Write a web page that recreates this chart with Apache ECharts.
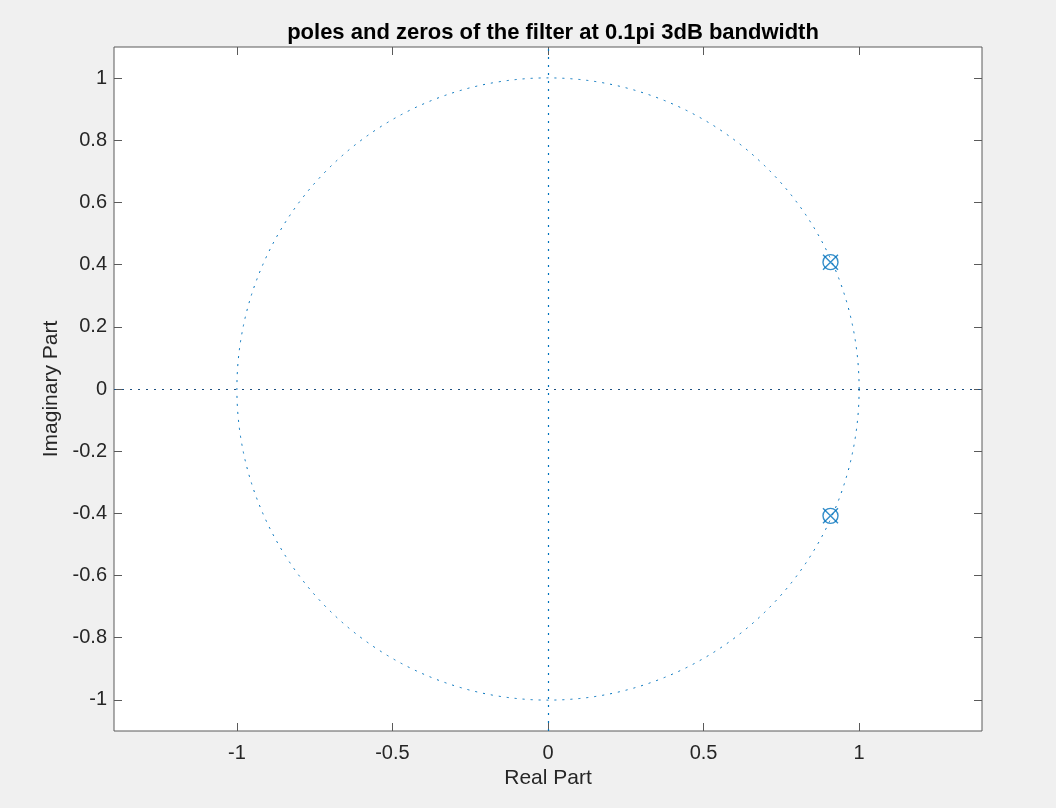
<!DOCTYPE html>
<html>
<head>
<meta charset="utf-8">
<script src="https://cdn.jsdelivr.net/npm/echarts@6/dist/echarts.min.js"></script>
<style>
html,body{margin:0;padding:0;background:#f0f0f0;}
#chart{width:1056px;height:808px;}
</style>
</head>
<body>
<div id="chart"></div>
<script>
// ---- data ----
var titleText = 'poles and zeros of the filter at 0.1pi 3dB bandwidth';
var xTicks = [-1, -0.5, 0, 0.5, 1];
var yTicks = [-1, -0.8, -0.6, -0.4, -0.2, 0, 0.2, 0.4, 0.6, 0.8, 1];
var zerosRe = [0.908, 0.908];
var zerosIm = [0.408, -0.408];
var polesRe = [0.908, 0.908];
var polesIm = [0.408, -0.408];
var unitCircle = [[0, 0, 1]]; // centre re, centre im, radius

var FONT = '"Liberation Sans", Helvetica, Arial, sans-serif';
var BLUE = '#0072BD';
var AX = '#5a5a5a';
var TXT = '#262626';

function pairs(re, im) { return re.map(function (v, i) { return [v, im[i]]; }); }

var chart = echarts.init(document.getElementById('chart'), null, {renderer: 'canvas'});

var tickStyle = {show: true, inside: true, length: 8, lineStyle: {color: AX, width: 1}};
var hiddenLine = {show: false, onZero: false};

var option = {
  backgroundColor: '#f0f0f0',
  animation: false,
  title: {
    text: titleText,
    left: 548,
    textAlign: 'center',
    top: 17,
    textStyle: {fontFamily: FONT, fontWeight: 'bold', fontSize: 22, color: '#000'}
  },
  grid: {
    left: 114, top: 47, width: 868, height: 684,
    show: true, backgroundColor: '#ffffff', borderColor: AX, borderWidth: 1
  },
  xAxis: [{
    type: 'value', min: -1.395, max: 1.395, position: 'bottom',
    name: 'Real Part', nameLocation: 'middle', nameGap: 37,
    nameTextStyle: {fontFamily: FONT, fontSize: 21, color: TXT},
    axisLine: hiddenLine,
    splitLine: {show: false},
    axisTick: Object.assign({customValues: xTicks}, tickStyle),
    axisLabel: {customValues: xTicks, margin: 12, fontFamily: FONT, fontSize: 20, color: TXT,
      formatter: function (v) { return String(v); }}
  }, {
    type: 'value', min: -1.395, max: 1.395, position: 'top',
    axisLine: hiddenLine, splitLine: {show: false},
    axisTick: Object.assign({customValues: xTicks}, tickStyle),
    axisLabel: {show: false}
  }],
  yAxis: [{
    type: 'value', min: -1.1, max: 1.1, position: 'left',
    name: 'Imaginary Part', nameLocation: 'middle', nameGap: 50,
    nameTextStyle: {fontFamily: FONT, fontSize: 21, color: TXT},
    axisLine: hiddenLine, splitLine: {show: false},
    axisTick: Object.assign({customValues: yTicks}, tickStyle),
    axisLabel: {customValues: yTicks, margin: 7, fontFamily: FONT, fontSize: 20, color: TXT,
      formatter: function (v) { return String(Math.round(v * 10) / 10); }}
  }, {
    type: 'value', min: -1.1, max: 1.1, position: 'right',
    axisLine: hiddenLine, splitLine: {show: false},
    axisTick: Object.assign({customValues: yTicks}, tickStyle),
    axisLabel: {show: false}
  }],
  series: [{
    type: 'custom',
    silent: true,
    data: unitCircle,
    renderItem: function (params, api) {
      var c = api.coord([api.value(0), api.value(1)]);
      var r = api.size([api.value(2), 0])[0];
      return {
        type: 'circle',
        shape: {cx: c[0], cy: c[1], r: r},
        style: {fill: null, stroke: BLUE, lineWidth: 1, lineDash: [2, 6]}
      };
    },
    markLine: {
      silent: true, symbol: 'none', label: {show: false}, animation: false,
      data: [
        {yAxis: 0, lineStyle: {color: '#1d4f80', type: [2, 6], width: 1}},
        {xAxis: 0, lineStyle: {color: BLUE, type: [2, 6], width: 1.2}}
      ]
    }
  }, {
    name: 'zeros', type: 'scatter',
    data: pairs(zerosRe, zerosIm),
    symbol: 'circle', symbolSize: 15,
    itemStyle: {color: 'rgba(0,0,0,0)', borderColor: BLUE, borderWidth: 1.4}
  }, {
    name: 'poles', type: 'scatter',
    data: pairs(polesRe, polesIm),
    symbol: 'path://M0,0L10,10M10,0L0,10', symbolSize: 15,
    itemStyle: {color: 'rgba(0,0,0,0)', borderColor: BLUE, borderWidth: 1.4}
  }]
};
chart.setOption(option);
</script>
</body>
</html>
